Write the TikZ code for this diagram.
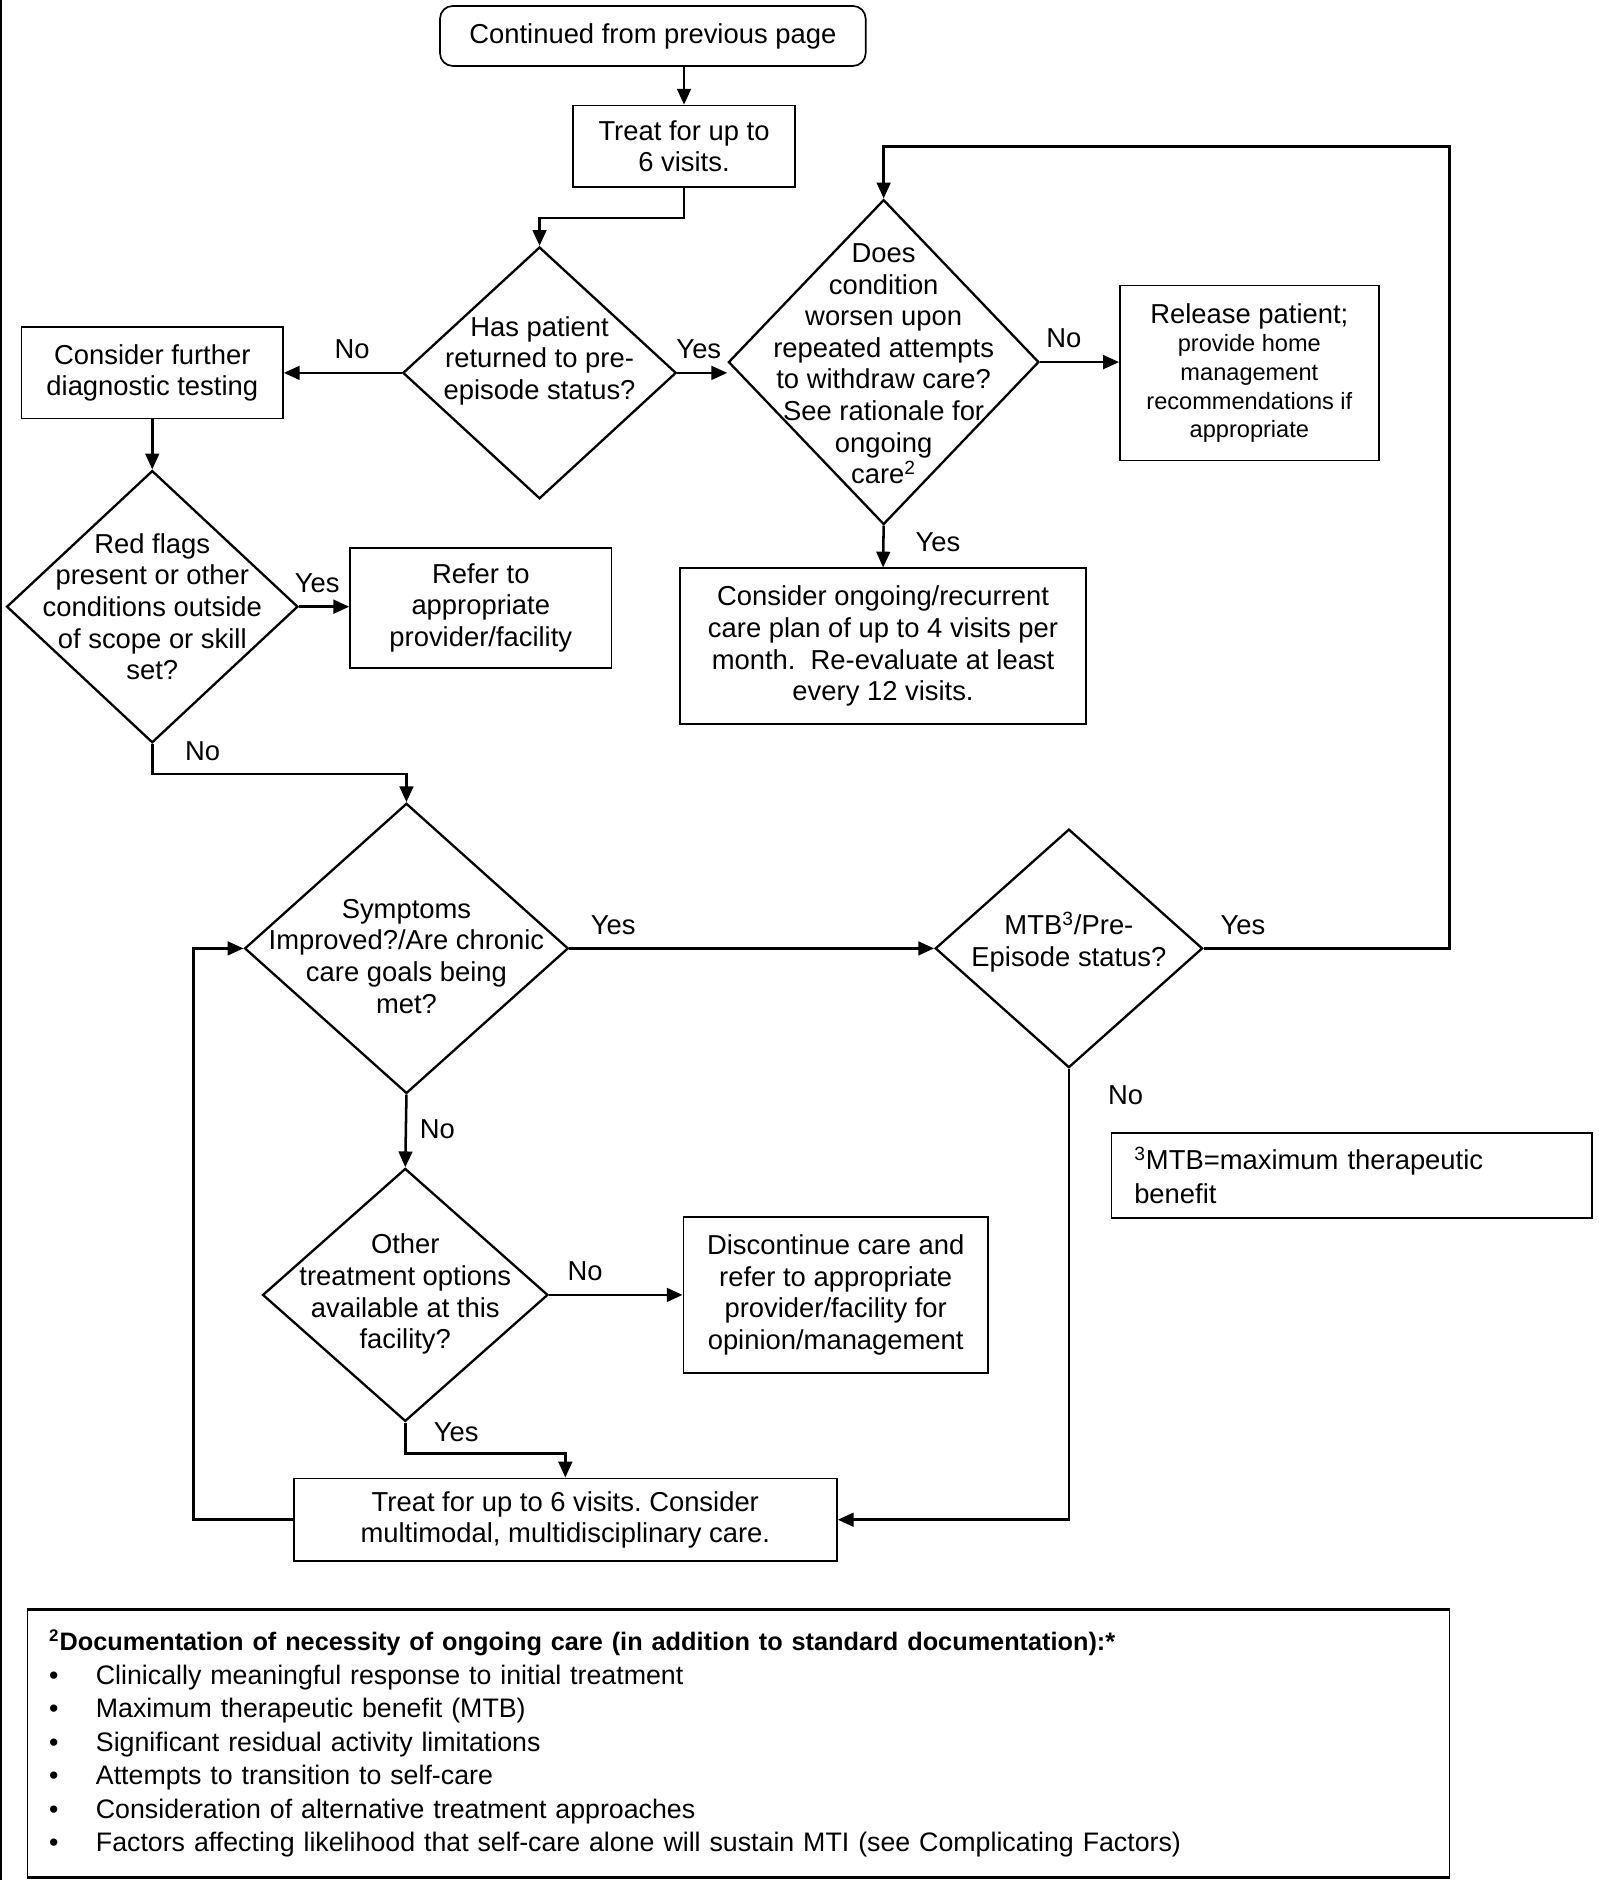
\documentclass[tikz,border=0pt]{standalone}
\usepackage{fontspec}
\setmainfont{Liberation Sans}
\usetikzlibrary{shapes.geometric, arrows.meta}
\frenchspacing

\tikzset{
  box/.style={draw, line width=0.8pt, align=center, inner sep=0pt},
  dia/.style={diamond, draw, line width=1.1pt, inner sep=0pt},
  txt/.style={align=center},
  lbl/.style={inner sep=3pt},
  arr/.style={line width=1.2pt, -{Triangle[length=7.5pt, width=6.5pt]}}
}

\begin{document}
\begin{tikzpicture}[font=\fontsize{13}{15}\selectfont]
\useasboundingbox (0,0) rectangle (26.66,-31.36);
\draw[line width=1.5pt] (0,0) -- (0,-31.36);

% Define nodes
\node[box, rounded corners=6pt, minimum width=7.1cm, minimum height=1cm] (cont) at (10.89,-0.6) {Continued from previous page};
\node[box, minimum width=3.7cm, minimum height=1.36cm] (treat1) at (11.41,-2.44) {Treat for up to\\6 visits.};
\node[dia, minimum width=4.56cm, minimum height=4.2cm, label={[txt, yshift=0.2cm]center:Has patient\\returned to pre-\\episode status?}] (d1) at (9,-6.22) {};
\node[box, minimum width=4.36cm, minimum height=1.52cm] (diag) at (2.54,-6.22) {Consider further\\diagnostic testing};
\node[dia, minimum width=5.18cm, minimum height=5.42cm, label={[txt, yshift=-0.03cm]center:Does\\condition\\worsen upon\\repeated attempts\\to withdraw care?\\See rationale for\\ongoing\\care\textsuperscript{2}}] (d2) at (14.74,-6.04) {};
\node[box, minimum width=4.32cm, minimum height=2.92cm, font=\fontsize{11.2}{13.6}\selectfont] (release) at (20.84,-6.22) {{\fontsize{13}{15}\selectfont Release patient;}\\provide home\\management\\recommendations if\\appropriate};
\node[box, minimum width=6.78cm, minimum height=2.6cm] (ongoing) at (14.73,-10.78) {Consider ongoing/recurrent\\care plan of up to 4 visits per\\month.\ \ Re-evaluate at least\\every 12 visits.};
\node[dia, minimum width=4.86cm, minimum height=4.54cm, label={[txt]center:Red flags\\present or other\\conditions outside\\of scope or skill\\set?}] (d3) at (2.54,-10.12) {};
\node[box, minimum width=4.36cm, minimum height=2cm] (refer) at (8.02,-10.14) {Refer to\\appropriate\\provider/facility};
\node[dia, minimum width=5.4cm, minimum height=4.84cm, label={[txt, yshift=-0.13cm]center:Symptoms\\Improved?/Are chronic\\care goals being\\met?}] (d4) at (6.78,-15.82) {};
\node[dia, minimum width=4.46cm, minimum height=3.98cm, label={[txt, yshift=0.11cm]center:MTB\textsuperscript{3}/Pre-\\Episode status?}] (d5) at (17.83,-15.82) {};
\node[box, minimum width=8.02cm, minimum height=1.42cm, text width=7.26cm, align=left, font=\fontsize{13}{16}\selectfont] (mtbnote) at (22.55,-19.61) {\textsuperscript{3}MTB=maximum therapeutic\\benefit};
\node[dia, minimum width=4.76cm, minimum height=4.22cm, label={[txt, yshift=0.01cm]center:Other\\treatment options\\available at this\\facility?}] (d6) at (6.76,-21.6) {};
\node[box, minimum width=5.08cm, minimum height=2.6cm] (disc) at (13.94,-21.6) {Discontinue care and\\refer to appropriate\\provider/facility for\\opinion/management};
\node[box, minimum width=9.06cm, minimum height=1.38cm] (treat2) at (9.43,-25.35) {Treat for up to 6 visits. Consider\\multimodal, multidisciplinary care.};
\node[box, minimum width=23.72cm, minimum height=4.44cm, text width=23cm, align=left, font=\fontsize{12.7}{15.9}\selectfont] (foot) at (12.32,-29.08) {{\fontsize{12}{15.9}\selectfont\bfseries\textsuperscript{2}Documentation of necessity of ongoing care (in addition to standard documentation):*}\\
\makebox[0.78cm][l]{\textbullet}Clinically meaningful response to initial treatment\\
\makebox[0.78cm][l]{\textbullet}Maximum therapeutic benefit (MTB)\\
\makebox[0.78cm][l]{\textbullet}Significant residual activity limitations\\
\makebox[0.78cm][l]{\textbullet}Attempts to transition to self-care\\
\makebox[0.78cm][l]{\textbullet}Consideration of alternative treatment approaches\\
\makebox[0.78cm][l]{\textbullet}Factors affecting likelihood that self-care alone will sustain MTI (see Complicating Factors)\\[0.1cm]};
\draw[line width=1.6pt] (foot.north west) -- (foot.north east);
\draw[line width=1.6pt] (foot.south west) -- (foot.south east);
\coordinate (back) at (24.18,-2.44);

% Draw edges with labels
\draw[arr] (treat1.north |- cont.south) -- (treat1.north);
\draw[arr] (treat1.south) -- ++(0,-0.5) -| (d1.north);
\draw[arr] (d1.west) -- (diag.east) node[lbl, pos=0.42, above=3pt] {No};
\draw[arr] (d1.east) -- (d1.east -| d2.west) node[lbl, pos=0.43, above=3pt] {Yes};
\draw[arr] (d2.east) -- (d2.east -| release.west) node[lbl, pos=0.3, above=3pt] {No};
\draw[arr] (d2.south) -- (ongoing.north) node[lbl, pos=0.4, right=11.7pt] {Yes};
\draw[arr] (d5.east) node[lbl, anchor=south west, xshift=4.4pt, yshift=3pt] {Yes} -| (back) -| (d2.north);
\draw[arr] (diag.south) -- (d3.north);
\draw[arr] (d3.east) -- (d3.east -| refer.west) node[lbl, pos=0.36, above=3pt] {Yes};
\draw[arr] (d3.south) -- ++(0,-0.5) node[lbl, pos=0.25, right=12pt] {No} -| (d4.north);
\draw[arr] (d4.east) -- (d5.west) node[lbl, pos=0.12, above=3pt] {Yes};
\draw[arr] (d4.south) -- (d6.north) node[lbl, pos=0.48, right=3pt] {No};
\draw[arr] (d6.east) -- (disc.west) node[lbl, pos=0.27, above=3pt] {No};
\draw[arr] (d6.south) -- ++(0,-0.52) node[lbl, pos=0.3, right=10pt] {Yes} -| (treat2.north);
\draw[arr] (d5.south) node[lbl, right=15pt, yshift=-0.44cm] {No} |- (treat2.east);
\draw[arr] (treat2.west) -- ++(-1.66,0) |- (d4.west);
\end{tikzpicture}
\end{document}
